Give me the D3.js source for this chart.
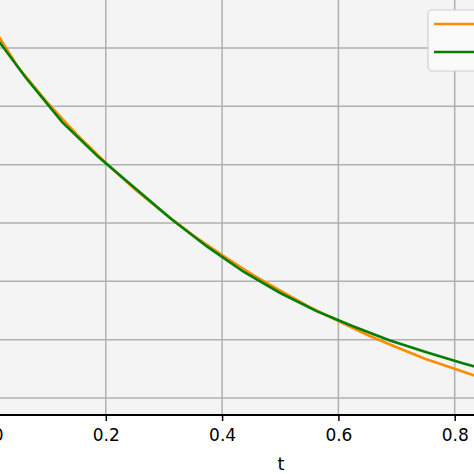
<!DOCTYPE html>
<html><head><meta charset="utf-8">
<script src="https://cdn.jsdelivr.net/npm/d3@7"></script>
<style>body{margin:0;background:#fff}svg{display:block}</style>
</head><body>
<script>
const orangeT = [0,0.05,0.1,0.15,0.2,0.25,0.3,0.35,0.4,0.45,0.5,0.55,0.6,0.65,0.7,0.75,0.8,0.85];
const orangeY = [7.45,6.66,6.06,5.52,5.03,4.58,4.17,3.79,3.45,3.13,2.84,2.56,2.32,2.08,1.87,1.67,1.50,1.33];
const greenT = [0,0.0625,0.125,0.1875,0.25,0.3125,0.375,0.4375,0.5,0.5625,0.625,0.6875,0.75,0.8125,0.875];
const greenY = [7.33,6.49,5.73,5.13,4.60,4.07,3.59,3.16,2.80,2.49,2.23,1.99,1.79,1.60,1.43];
const xTicks = [0,0.2,0.4,0.6,0.8,1.0];
const yTicks = [0,1,2,3,4,5,6,7,8];

const W=474,H=474;
const svg=d3.select("body").append("svg").attr("width",W).attr("height",H);
const x=d3.scaleLinear().domain([0,0.8]).range([-10.5,454.7]);
const y=d3.scaleLinear().domain([1,7]).range([398,48]);
const axisY=415;
svg.append("rect").attr("x",0).attr("y",0).attr("width",W).attr("height",axisY).attr("fill","#f4f4f4");
const g=svg.append("g");
g.selectAll(".vg").data(xTicks).join("line").attr("x1",d=>x(d)).attr("x2",d=>x(d)).attr("y1",0).attr("y2",axisY).attr("stroke","#b0b0b0").attr("stroke-width",1.5);
g.selectAll(".hg").data(yTicks).join("line").attr("x1",0).attr("x2",W).attr("y1",d=>y(d)).attr("y2",d=>y(d)).attr("stroke","#b0b0b0").attr("stroke-width",1.5).attr("display",d=>y(d)<axisY?null:"none");
const line=(T,Y)=>d3.line().x((d,i)=>x(T[i])).y(d=>y(d))(Y);
svg.append("path").attr("d",line(orangeT,orangeY)).attr("fill","none").attr("stroke","#ff8c00").attr("stroke-width",2.6);
svg.append("path").attr("d",line(greenT,greenY)).attr("fill","none").attr("stroke","#007f00").attr("stroke-width",2.6);
const ax=svg.append("g").attr("transform",`translate(0,${axisY})`).call(d3.axisBottom(x).tickValues(xTicks.slice(0,5)).tickFormat(d3.format(".1f")).tickSize(6).tickPadding(8).tickSizeOuter(0));
ax.select(".domain").attr("stroke","#000").attr("stroke-width",2).attr("d",`M0,0H${W}`);
ax.selectAll(".tick line").attr("stroke-width",1.5);
ax.selectAll("text").attr("font-family","DejaVu Sans").attr("font-size",17).attr("fill","#000");
svg.append("text").attr("x",281).attr("y",470).attr("text-anchor","middle").attr("font-family","DejaVu Sans").attr("font-size",18).text("t");
const lg=svg.append("g");
lg.append("rect").attr("x",428).attr("y",10).attr("width",60).attr("height",61).attr("rx",4).attr("fill","#fafafa").attr("stroke","#d0d0d0").attr("stroke-width",1.2);
lg.append("line").attr("x1",434).attr("x2",480).attr("y1",24).attr("y2",24).attr("stroke","#ff8c00").attr("stroke-width",2.6);
lg.append("line").attr("x1",434).attr("x2",480).attr("y1",52).attr("y2",52).attr("stroke","#007f00").attr("stroke-width",2.6);
</script></body></html>
